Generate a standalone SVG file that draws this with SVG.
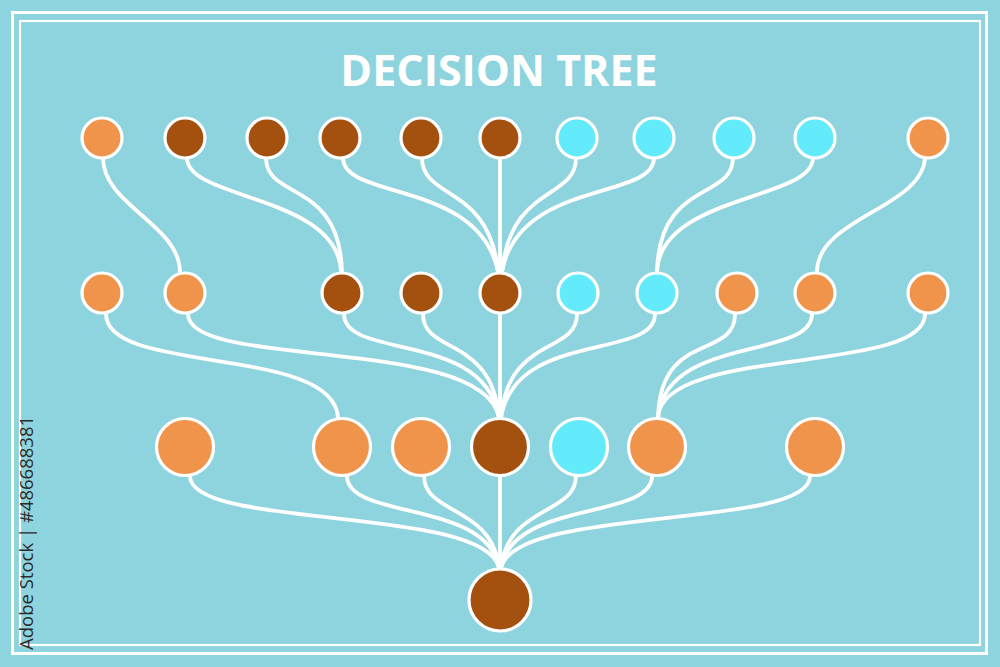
<svg xmlns="http://www.w3.org/2000/svg" width="1000" height="667" viewBox="0 0 1000 667">
  <style>
    .frame { fill: none; stroke: #ffffff; }
    .edge { fill: none; stroke: #ffffff; stroke-width: 3.8; stroke-linecap: round; }
    .n { stroke: #ffffff; stroke-width: 3.2; }
    .orange { fill: #F0934B; }
    .brown { fill: #A4500F; }
    .cyan { fill: #63EBFB; }
    .title { font-family: "Open Sans", "Liberation Sans", sans-serif; font-weight: bold; font-size: 43px; fill: #ffffff; }
    .stock { font-family: "Open Sans", "Liberation Sans", sans-serif; font-size: 18.5px; fill: #2b2b2b; }
  </style>
  <rect x="0" y="0" width="1000" height="667" fill="#8ED4DF"/>
  <rect class="frame" x="12.5" y="12.5" width="974" height="641" stroke-width="3"/>
  <rect class="frame" x="20" y="21" width="960" height="624" stroke-width="2.2"/>
  <text class="title" x="499" y="86" text-anchor="middle">DECISION TREE</text>
  <text class="stock" transform="translate(33,650) rotate(-90)">Adobe Stock | #486688381</text>

  <g id="connectors">
    <!-- row1 -> row2 -->
    <path class="edge" d="M103,158 C103,205 180,225 180,272"/>
    <path class="edge" d="M187,158 C187,200 338,195 341,272"/>
    <path class="edge" d="M266,158 C266,200 340,180 342,272"/>
    <path class="edge" d="M343,158 C343,200 480,180 498,272"/>
    <path class="edge" d="M422,158 C422,200 490,185 498,272"/>
    <path class="edge" d="M500,158 L500,272"/>
    <path class="edge" d="M576,158 C576,200 510,185 502,272"/>
    <path class="edge" d="M654,158 C654,200 518,180 502,272"/>
    <path class="edge" d="M733,158 C733,200 659,180 657,272"/>
    <path class="edge" d="M813,158 C813,200 660,195 657,272"/>
    <path class="edge" d="M925,158 C922,208 817,218 817,272"/>
    <!-- row2 -> row3 -->
    <path class="edge" d="M106,314 C106,375 335,345 338,418"/>
    <path class="edge" d="M188,314 C188,370 485,335 499,418"/>
    <path class="edge" d="M344,314 C344,360 485,330 499,418"/>
    <path class="edge" d="M423,314 C423,355 492,335 499,418"/>
    <path class="edge" d="M500,314 L500,418"/>
    <path class="edge" d="M577,314 C577,355 508,335 501,418"/>
    <path class="edge" d="M655,314 C655,360 515,330 501,418"/>
    <path class="edge" d="M735,314 C735,360 660,330 658,418"/>
    <path class="edge" d="M812,314 C812,360 665,335 658,418"/>
    <path class="edge" d="M925,314 C925,375 660,345 658,418"/>
    <!-- row3 -> root -->
    <path class="edge" d="M190,476 C190,530 485,505 499,568"/>
    <path class="edge" d="M347,476 C347,520 488,500 499,568"/>
    <path class="edge" d="M424,476 C424,515 492,505 499,568"/>
    <path class="edge" d="M500,476 L500,568"/>
    <path class="edge" d="M576,476 C576,515 508,505 501,568"/>
    <path class="edge" d="M652,476 C652,520 512,500 501,568"/>
    <path class="edge" d="M810,476 C810,530 515,505 501,568"/>
  </g>

  <g id="r1n1"><circle class="n orange" cx="102" cy="138" r="20"/></g>
  <g id="r1n2"><circle class="n brown" cx="185" cy="138" r="20"/></g>
  <g id="r1n3"><circle class="n brown" cx="267" cy="138" r="20"/></g>
  <g id="r1n4"><circle class="n brown" cx="340" cy="138" r="20"/></g>
  <g id="r1n5"><circle class="n brown" cx="421" cy="138" r="20"/></g>
  <g id="r1n6"><circle class="n brown" cx="500" cy="138" r="20"/></g>
  <g id="r1n7"><circle class="n cyan" cx="577" cy="138" r="20"/></g>
  <g id="r1n8"><circle class="n cyan" cx="654" cy="138" r="20"/></g>
  <g id="r1n9"><circle class="n cyan" cx="734" cy="138" r="20"/></g>
  <g id="r1n10"><circle class="n cyan" cx="815" cy="138" r="20"/></g>
  <g id="r1n11"><circle class="n orange" cx="928" cy="138" r="20"/></g>

  <g id="r2n1"><circle class="n orange" cx="102" cy="293" r="20"/></g>
  <g id="r2n2"><circle class="n orange" cx="185" cy="293" r="20"/></g>
  <g id="r2n3"><circle class="n brown" cx="342" cy="293" r="20"/></g>
  <g id="r2n4"><circle class="n brown" cx="421" cy="293" r="20"/></g>
  <g id="r2n5"><circle class="n brown" cx="500" cy="293" r="20"/></g>
  <g id="r2n6"><circle class="n cyan" cx="578" cy="293" r="20"/></g>
  <g id="r2n7"><circle class="n cyan" cx="657" cy="293" r="20"/></g>
  <g id="r2n8"><circle class="n orange" cx="737" cy="293" r="20"/></g>
  <g id="r2n9"><circle class="n orange" cx="815" cy="293" r="20"/></g>
  <g id="r2n10"><circle class="n orange" cx="928" cy="293" r="20"/></g>

  <g id="r3n1"><circle class="n orange" cx="185" cy="447" r="28.5"/></g>
  <g id="r3n2"><circle class="n orange" cx="342" cy="447" r="28.5"/></g>
  <g id="r3n3"><circle class="n orange" cx="421" cy="447" r="28.5"/></g>
  <g id="r3n4"><circle class="n brown" cx="500" cy="447" r="28.5"/></g>
  <g id="r3n5"><circle class="n cyan" cx="579" cy="447" r="28.5"/></g>
  <g id="r3n6"><circle class="n orange" cx="657" cy="447" r="28.5"/></g>
  <g id="r3n7"><circle class="n orange" cx="815" cy="447" r="28.5"/></g>

  <g id="root"><circle class="n brown" cx="500" cy="600" r="31"/></g>
</svg>
